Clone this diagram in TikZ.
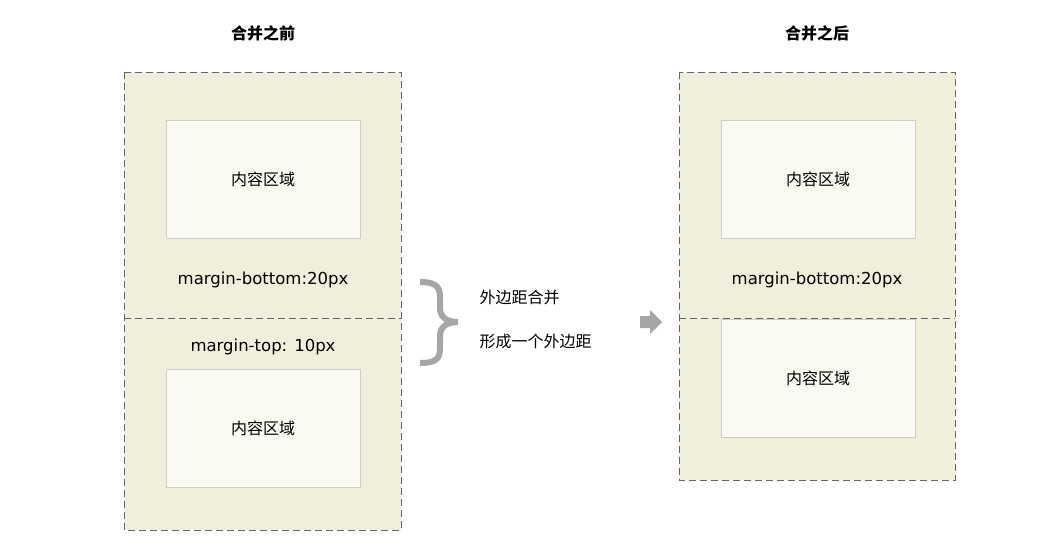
\documentclass[tikz,border=0pt]{standalone}
\usepackage{fontspec}
\setmainfont{DejaVu Sans}
\newfontfamily\cjk{Noto Sans CJK SC}
\begin{document}
\begin{tikzpicture}[x=1pt,y=-1pt,
  dsh/.style={draw=gray!80!black,dash pattern=on 7pt off 4pt,line width=0.9pt},
  outerbox/.style={dsh,fill={rgb,255:red,240;green,239;blue,220}},
  innerbox/.style={draw={rgb,255:red,204;green,204;blue,204},fill={rgb,255:red,250;green,250;blue,242},line width=0.8pt},
  lbl/.style={font=\fontsize{16.5}{19}\selectfont},
  cj/.style={font=\cjk\fontsize{16}{19}\selectfont},
  ttl/.style={font=\cjk\bfseries\fontsize{16}{19}\selectfont}]
\useasboundingbox (0,0) rectangle (1047,543);
% left
\node[ttl] (t1) at (263,33) {合并之前};
\path[outerbox] (124,72) rectangle (401,530);
\draw[dsh] (124,318) -- (401,318);
\node[innerbox,minimum width=194pt,minimum height=118pt,cj] (a1) at (263,179) {内容区域};
\node[innerbox,minimum width=194pt,minimum height=118pt,cj] (a2) at (263,428) {内容区域};
\node[lbl] (mb1) at (263,280) {margin-bottom:20px};
\node[lbl] (mt1) at (263,347) {margin-top: 10px};
% brace
\draw[gray!70,line width=6pt] (420,282) .. controls (440,282) and (440,290) .. (440,300) -- (440,308) .. controls (440,318) and (448,322) .. (458,322) .. controls (448,322) and (440,326) .. (440,336) -- (440,345) .. controls (440,356) and (440,363) .. (420,363);
\node[cj,anchor=west] (m1) at (476,297) {外边距合并};
\node[cj,anchor=west] (m2) at (476,341) {形成一个外边距};
\fill[gray!70] (640,316) -- (650,316) -- (650,310) -- (662,322) -- (650,334) -- (650,328) -- (640,328) -- cycle;
% right
\node[ttl] (t2) at (817,33) {合并之后};
\path[outerbox] (679,72) rectangle (955,480);
\draw[dsh] (679,318) -- (955,318);
\node[innerbox,minimum width=194pt,minimum height=118pt,cj] (b1) at (818,179) {内容区域};
\node[innerbox,minimum width=194pt,minimum height=118pt,cj] (b2) at (818,378) {内容区域};
\node[lbl] (mb2) at (817,280) {margin-bottom:20px};
\end{tikzpicture}
\end{document}
